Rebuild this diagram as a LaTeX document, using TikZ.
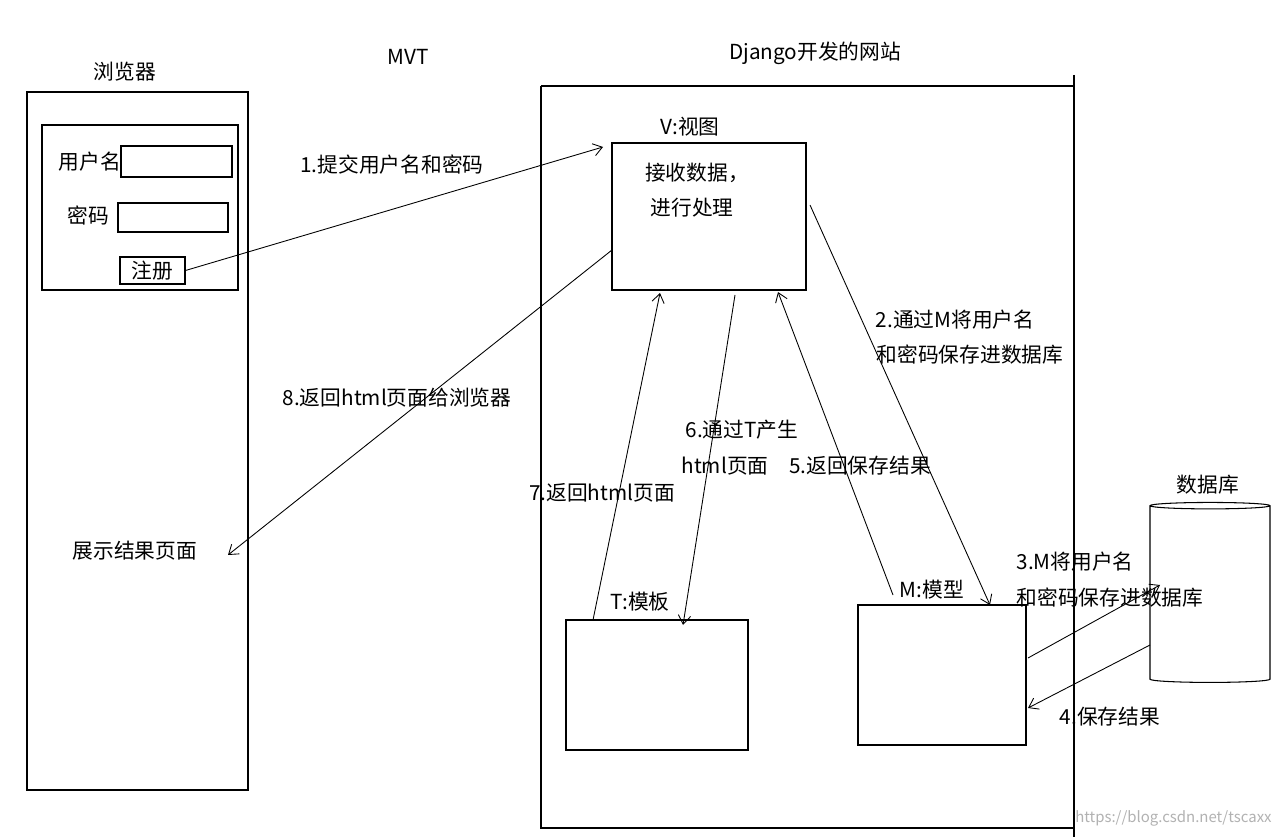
\documentclass[tikz,border=0pt]{standalone}
\usepackage{fontspec}
\setmainfont{Noto Sans CJK SC}
\usetikzlibrary{arrows.meta,shapes.geometric}
\begin{document}
\begin{tikzpicture}[x=0.02cm,y=-0.02cm,
  box/.style={draw,line width=0.6pt},
  lbl/.style={font=\fontsize{11.8}{13}\selectfont,inner sep=0pt},
  arr/.style={draw,line width=0.5pt,-{Straight Barb[length=5pt,width=7pt]}}]
\useasboundingbox[fill=white] (0,0) rectangle (1278,837);
% browser
\node[lbl] (bt) at (125,72) {浏览器};
\draw[box] (27,92) rectangle (248,790);
\draw[box] (42,125) rectangle (238,290);
\node[lbl] (un) at (90,162) {用户名};
\draw[box] (121,146) rectangle (232,177);
\node[lbl] (pw) at (88,216) {密码};
\draw[box] (118,203) rectangle (228,232);
\node[box,lbl,minimum width=1.3cm,minimum height=0.54cm] (reg) at (152.5,270.5) {注册};
\node[lbl] (show) at (135,551) {展示结果页面};
\coordinate (showp) at (228,555);
\node[lbl] (mvt) at (408,57) {MVT};
\node[lbl] (dj) at (815,53) {Django开发的网站};
\draw[box] (541,86) -- (1074,86);
\draw[box] (541,86) -- (541,828) -- (1074,828);
\draw[box] (1074,75) -- (1074,837);
% V
\node[lbl] (vt) at (690,127) {V:视图};
\node[box,minimum width=3.88cm,minimum height=2.94cm] (V) at (709,216.5) {};
\node[lbl] at (697,173) {接收数据，};
\node[lbl] at (692,208) {进行处理};
% T
\node[lbl] (tt) at (640,602) {T:模板};
\node[box,minimum width=3.64cm,minimum height=2.6cm] (T) at (657,685) {};
% M
\node[lbl] (mt) at (932,590) {M:模型};
\node[box,minimum width=3.36cm,minimum height=2.8cm] (M) at (942,675) {};
% DB
\node[lbl] (dbt) at (1208,485) {数据库};
\node[draw,line width=0.6pt,cylinder,shape border rotate=90,aspect=0.55,minimum width=2.4cm,minimum height=3.6cm] (DB) at (1210,595) {};
% arrows
\coordinate (a1e) at (603,147);
\draw[arr] (reg.east) -- (a1e);
\node[lbl] at (392,165) {1.提交用户名和密码};
\coordinate (a2s) at (810,205); \coordinate (a2e) at (990,605);
\draw[arr] (a2s) -- (a2e);
\node[lbl] at (955,320) {2.通过M将用户名};
\node[lbl] at (970,355) {和密码保存进数据库};
\coordinate (a3s) at (1028,658); \coordinate (a3e) at (1160,585);
\draw[arr] (a3s) -- (a3e);
\node[lbl] at (1075,562) {3.M将用户名};
\node[lbl] at (1110,598) {和密码保存进数据库};
\coordinate (a4s) at (1150,645); \coordinate (a4e) at (1028,708);
\draw[arr] (a4s) -- (a4e);
\node[lbl] at (1110,717) {4.保存结果};
\coordinate (a5s) at (893,595); \coordinate (a5e) at (778,292);
\draw[arr] (a5s) -- (a5e);
\node[lbl] at (860,466) {5.返回保存结果};
\coordinate (a6s) at (735,295); \coordinate (a6e) at (683,625);
\draw[arr] (a6s) -- (a6e);
\node[lbl] at (742,430) {6.通过T产生};
\node[lbl] at (725,466) {html页面};
\coordinate (a7s) at (593,620); \coordinate (a7e) at (660,293);
\draw[arr] (a7s) -- (a7e);
\node[lbl] at (602,493) {7.返回html页面};
\coordinate (a8s) at (612,250);
\draw[arr] (a8s) -- (showp);
\node[lbl] at (397,398) {8.返回html页面给浏览器};
\node[inner sep=0pt,text=gray!60,font=\fontsize{8.5}{10}\selectfont,anchor=east] at (1272,818) {https://blog.csdn.net/tscaxx};
\end{tikzpicture}
\end{document}
